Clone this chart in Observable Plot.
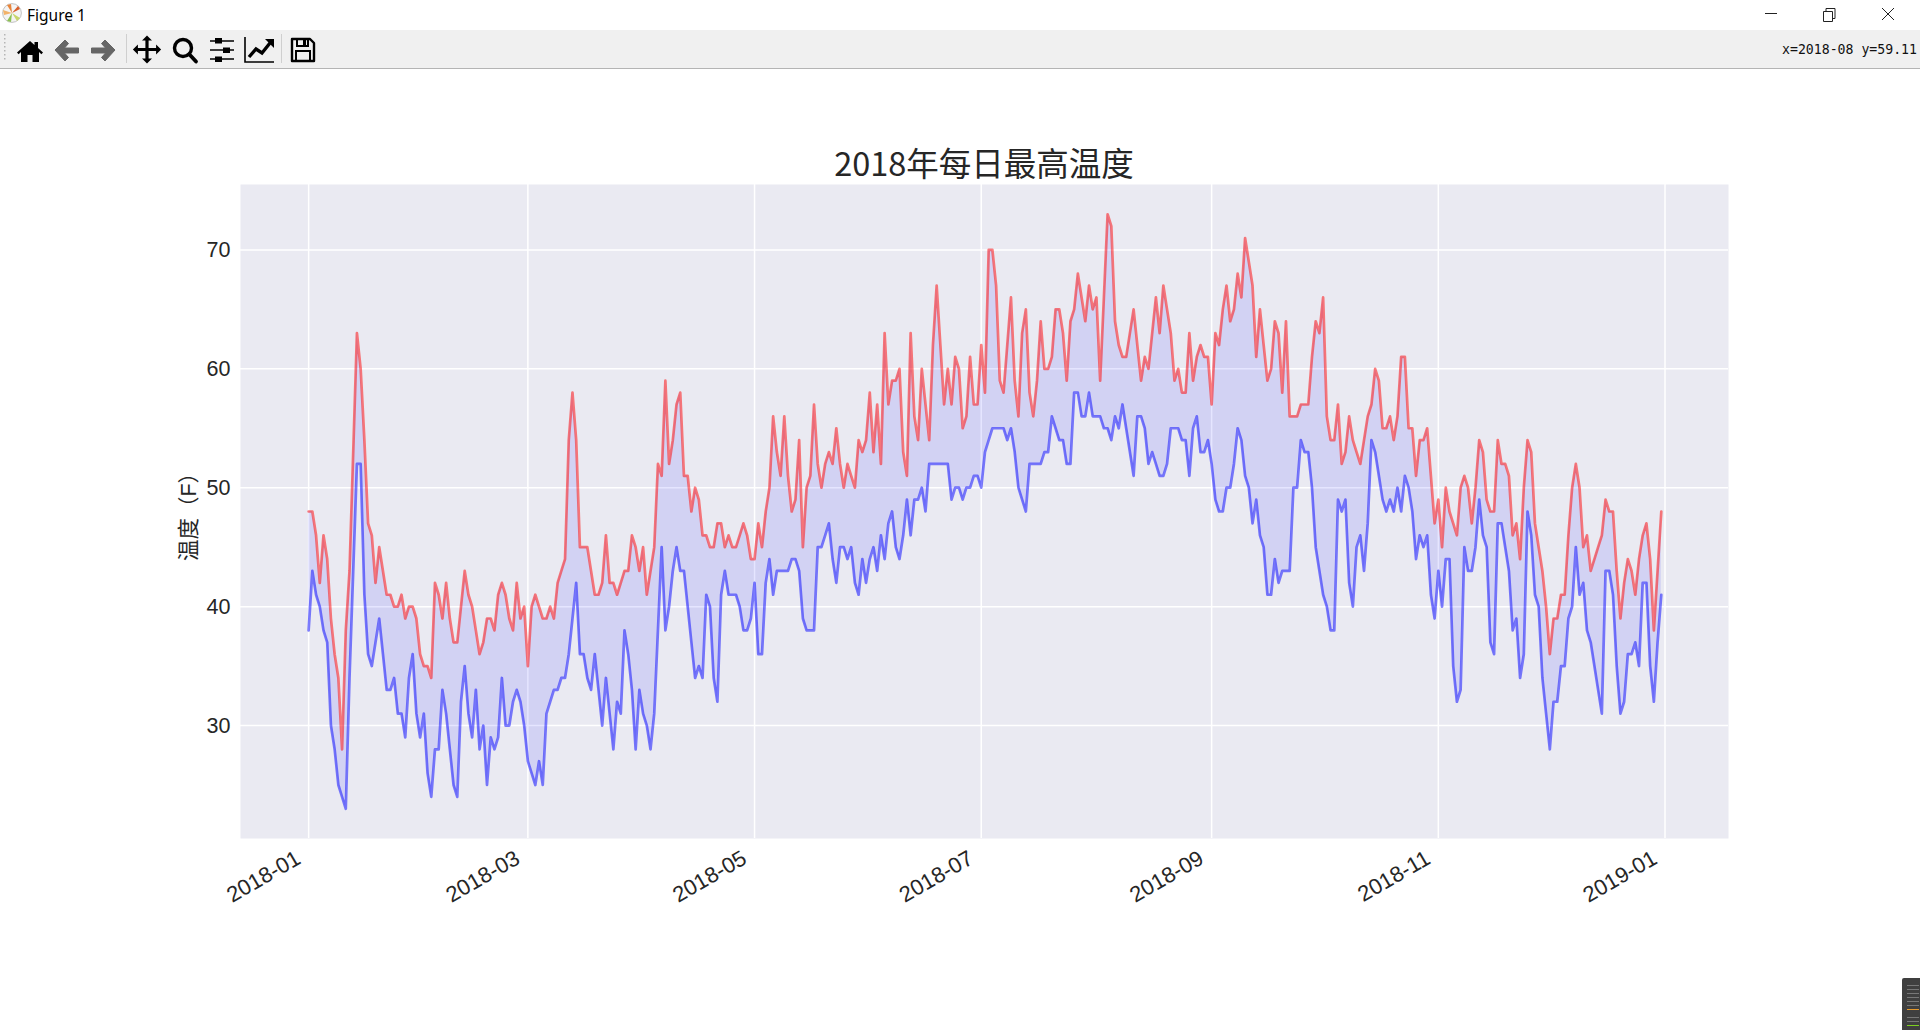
<!DOCTYPE html>
<html lang="zh">
<head>
<meta charset="utf-8">
<title>2018年每日最高温度</title>
<script src="https://cdn.jsdelivr.net/npm/d3@7"></script>
<script src="https://cdn.jsdelivr.net/npm/@observablehq/plot@0.6"></script>
<style>
html,body{margin:0;padding:0;background:#fff;width:1920px;height:1030px;overflow:hidden;}
#titlebar{position:absolute;left:0;top:0;width:1920px;height:30px;background:#fff;}
#wintitle{position:absolute;left:27px;top:3px;font:15.5px/24px "Noto Sans",sans-serif;color:#000;}
#toolbar{position:absolute;left:0;top:30px;width:1920px;height:38px;background:#f0f0f0;border-bottom:1px solid #b4b4b4;box-sizing:content-box;}
#status{position:absolute;right:3px;top:12px;font:13.2px/16px "DejaVu Sans Mono",monospace;color:#111;}
.ico{position:absolute;overflow:visible;}
#heading{position:absolute;left:240px;top:69px;width:1488px;height:115px;}
#heading div{position:absolute;left:0;right:0;bottom:-3px;text-align:center;font:32.5px/50px "Noto Sans CJK SC",sans-serif;color:#262626;}
#chart{position:absolute;left:0;top:184px;}
#chart svg{display:block;}
#tray{position:absolute;left:1902px;top:978px;width:18px;height:52px;background:#3f3f3f;border-radius:2px 0 0 0;}
#tray i{position:absolute;left:5px;width:12px;height:1px;background:#777;}
</style>
</head>
<body>
<div id="titlebar">
  <svg class="ico" style="left:2px;top:3px" width="20" height="20" viewBox="0 0 20 20">
    <circle cx="10" cy="10" r="9.4" fill="#f4f4f4" stroke="#aaa" stroke-width=".7"/>
    <path d="M10 10L5 2l4-1z" fill="#e8853a"/><path d="M10 10L1 7l1 5z" fill="#f2b36b"/>
    <path d="M10 10l6-7 2 3z" fill="#d95f2b"/><path d="M10 10l-5 8 4 1z" fill="#8cc152"/>
    <path d="M10 10l8 5-3 3z" fill="#c8d66a"/>
  </svg>
  <div id="wintitle">Figure 1</div>
  <svg class="ico" style="left:1760px;top:5px" width="150" height="18" viewBox="0 0 150 18" fill="none" stroke="#222" stroke-width="1">
    <path d="M5 8.5h12"/>
    <path d="M63.500 6.500h9v10h-9z"/><path d="M66 6.500v-3h9v10h-2.500"/>
    <path d="M122 3l12 12M134 3l-12 12"/>
  </svg>
</div>
<div id="toolbar">
  <svg class="ico" style="left:0;top:0" width="320" height="38" viewBox="0 0 320 38">
    <g fill="#b5b5b5"><rect x="4" y="4" width="1.5" height="1.5"/><rect x="4" y="8" width="1.5" height="1.5"/><rect x="4" y="12" width="1.5" height="1.5"/><rect x="4" y="16" width="1.5" height="1.5"/><rect x="4" y="20" width="1.5" height="1.5"/><rect x="4" y="24" width="1.5" height="1.5"/><rect x="4" y="28" width="1.5" height="1.5"/></g>
    <path d="M30 11L17 22.5l1.6 1.7 2.4-2.1V32h6.5v-7h5v7H39V22.100l2.400 2.100 1.600-1.700-5-4.500V12h-3.500v3z" fill="#000"/>
    <path d="M56 20l10-10 3.500 3.500-4 4.500h14v5H65.500l4 4.500L66 31z" fill="#666" stroke="#666" stroke-linejoin="round" transform="translate(-1,0)"/>
    <path d="M115 20l-10-10-3.500 3.500 4 4.500h-14v5h14l-4 4.500L105 31z" fill="#666" stroke="#666" stroke-linejoin="round"/>
    <rect x="126" y="4" width="1" height="29" fill="#cfcfcf"/>
    <path d="M147 6l5 5h-3.400v7.500h7.500v-3.400l5 4.900-5 4.900v-3.400h-7.500V29h3.400l-5 5-5-5h3.400v-7.500h-7.500v3.400l-5-4.900 5-4.900v3.400h7.500V11h-3.400z" fill="#000" transform="translate(0,-.5)"/>
    <circle cx="183" cy="18" r="8.500" fill="none" stroke="#000" stroke-width="3.400"/>
    <path d="M189.500 24.500l6.500 7" stroke="#000" stroke-width="3.800" stroke-linecap="round"/>
    <g stroke="#000" stroke-width="1.600"><path d="M210 11h24M210 20h24M210 29h24"/></g>
    <g fill="#000"><rect x="215" y="8" width="7" height="5.500"/><rect x="223" y="17.500" width="7" height="5.500"/><rect x="215" y="26.500" width="7" height="5.500"/></g>
    <path d="M245 7v25h29" fill="none" stroke="#000" stroke-width="1.600"/>
    <path d="M249 27l7-8 6 4 8-10" fill="none" stroke="#000" stroke-width="3.400"/><path d="M265 9h9v9z" fill="#000"/>
    <rect x="281" y="4" width="1" height="29" fill="#cfcfcf"/>
    <path d="M292 9h18l4 4v18h-22z" fill="none" stroke="#000" stroke-width="2.400" stroke-linejoin="round"/>
    <path d="M297 9v7h11V9" fill="none" stroke="#000" stroke-width="2"/><rect x="303" y="10" width="3" height="5" fill="#000"/>
    <path d="M296 31v-10h14v10" fill="none" stroke="#000" stroke-width="2"/>
  </svg>
  <div id="status">x=2018-08 y=59.11</div>
</div>
<div id="heading"><div>2018年每日最高温度</div></div>
<div id="chart"></div>
<div id="tray"><i style="top:7px"></i><i style="top:11px"></i><i style="top:15px"></i><i style="top:19px"></i><i style="top:23px"></i><i style="top:27px"></i><i style="top:31px;background:#e59a2e"></i><i style="top:39px"></i><i style="top:43px"></i><i style="top:47px;background:#7cd01f"></i></div>
<script>
const startDate = Date.UTC(2018, 0, 1);

const highs = [
48,48,46,42,46,44,39,36,34,28,
38,43,53,63,60,54,47,46,42,45,
43,41,41,40,40,41,39,40,40,39,
36,35,35,34,42,41,39,42,39,37,
37,40,43,41,40,38,36,37,39,39,
38,41,42,41,39,38,42,39,40,35,
40,41,40,39,39,40,39,42,43,44,
54,58,54,45,45,45,43,41,41,42,
46,42,42,41,42,43,43,46,45,43,
45,41,43,45,52,51,59,52,54,57,
58,51,51,48,50,49,46,46,45,45,
47,47,45,46,45,45,46,47,46,44,
44,47,45,48,50,56,53,51,56,51,
48,49,54,45,50,51,57,52,50,52,
53,52,55,52,50,52,51,50,54,53,
54,58,53,57,52,63,57,59,59,60,
53,51,63,56,54,60,57,54,62,67,
62,57,60,57,61,60,55,56,61,57,
57,62,58,70,70,67,59,58,62,66,
59,56,63,65,58,56,59,64,60,60,
61,65,65,63,59,64,65,68,66,64,
67,65,66,59,66,73,72,64,62,61,
61,63,65,62,59,61,60,63,66,63,
67,65,63,59,60,58,58,63,59,61,
62,61,61,57,63,62,65,67,64,65,
68,66,71,69,67,61,65,62,59,60,
64,63,58,64,56,56,56,57,57,57,
61,64,63,66,56,54,54,57,52,53,
56,54,53,52,54,56,57,60,59,55,
55,56,54,56,61,61,55,55,51,54,
54,55,51,47,49,45,50,48,47,46,
50,51,50,47,50,54,53,49,48,48,
54,52,52,51,46,47,44,50,54,53,
47,45,43,40,36,39,39,41,41,46,
50,52,50,45,46,43,44,45,46,49,
48,48,43,39,42,44,43,41,44,46,
47,44,38,43,48
];

const lows = [
38,43,41,40,38,37,30,28,25,24,
23,34,43,52,52,41,36,35,37,39,
36,33,33,34,31,31,29,34,36,31,
29,31,26,24,28,28,33,31,28,25,
24,32,35,31,29,33,28,30,25,29,
28,29,34,30,30,32,33,32,30,27,
26,25,27,25,31,32,33,33,34,34,
36,39,42,36,36,34,33,36,33,30,
34,31,28,32,31,38,36,33,28,33,
31,30,28,31,38,45,38,40,43,45,
43,43,40,37,34,35,34,41,40,34,
32,41,43,41,41,41,40,38,38,39,
42,36,36,42,44,41,43,43,43,43,
44,44,43,39,38,38,38,45,45,46,
47,44,42,45,45,44,45,42,41,44,
42,44,45,43,46,44,47,48,45,44,
46,49,46,49,49,50,48,52,52,52,
52,52,52,49,50,50,49,50,50,51,
51,50,53,54,55,55,55,55,54,55,
53,50,49,48,52,52,52,52,53,53,
56,55,54,54,52,52,58,58,56,56,
58,56,56,56,55,55,54,56,55,57,
55,53,51,56,56,55,52,53,52,51,
51,52,55,55,55,54,54,51,55,56,
53,53,54,52,49,48,48,50,50,52,
55,54,51,50,47,49,46,45,41,41,
44,42,43,43,43,50,50,54,53,53,
50,45,43,41,40,38,38,49,48,49,
42,40,45,46,43,47,54,53,51,49,
48,49,48,50,48,51,50,48,44,46,
45,46,41,39,43,40,44,44,35,32,
33,45,43,43,45,49,46,45,37,36,
47,47,45,43,38,39,34,36,48,46,
41,40,34,31,28,32,32,35,35,39,
40,45,41,42,38,37,35,33,31,43,
43,41,35,31,32,36,36,37,35,42,
42,35,32,37,41
];

const xTicks = ["2018-01-01","2018-03-01","2018-05-01","2018-07-01","2018-09-01","2018-11-01","2019-01-01"].map(d => new Date(d + "T00:00:00Z"));
const yTicks = [30, 40, 50, 60, 70];
const xDomain = [new Date("2017-12-13T16:00:00Z"), new Date("2019-01-18T02:00:00Z")];
const yDomain = [20.5, 75.5];
const yLabel = "温度（F）";

const rows = highs.map((h, i) => ({date: new Date(startDate + i * 864e5), high: h, low: lows[i]}));

const plot = Plot.plot({
  width: 1920,
  height: 846,
  marginLeft: 240,
  marginRight: 192,
  marginTop: 0,
  marginBottom: 192,
  style: {fontFamily: '"Liberation Sans","Noto Sans CJK SC",sans-serif', fontSize: "22px", color: "#262626", background: "transparent", overflow: "visible"},
  x: {type: "utc", domain: xDomain},
  y: {domain: yDomain},
  marks: [
    Plot.frame({fill: "#eaeaf2", stroke: null}),
    Plot.gridX(xTicks, {stroke: "#fff", strokeOpacity: 1, strokeWidth: 1.5}),
    Plot.gridY(yTicks, {stroke: "#fff", strokeOpacity: 1, strokeWidth: 1.5}),
    Plot.areaY(rows, {x: "date", y1: "low", y2: "high", fill: "blue", fillOpacity: 0.1}),
    Plot.lineY(rows, {x: "date", y: "high", stroke: "red", strokeOpacity: 0.5, strokeWidth: 2.7}),
    Plot.lineY(rows, {x: "date", y: "low", stroke: "blue", strokeOpacity: 0.5, strokeWidth: 2.7}),
    Plot.axisX({ticks: xTicks, tickFormat: d3.utcFormat("%Y-%m"), tickSize: 0, tickPadding: 10, tickRotate: -30, label: null, fontSize: 22, dx: -10, dy: 8}),
    Plot.axisY({ticks: yTicks, tickSize: 0, tickPadding: 10, label: null, fontSize: 21.5, dy: 0.5}),
    Plot.axisY({ticks: [], tickSize: 0, label: yLabel, labelAnchor: "center", labelArrow: "none", labelOffset: 60, fontSize: 21.5})
  ]
});
document.getElementById("chart").appendChild(plot);
</script>
</body>
</html>
